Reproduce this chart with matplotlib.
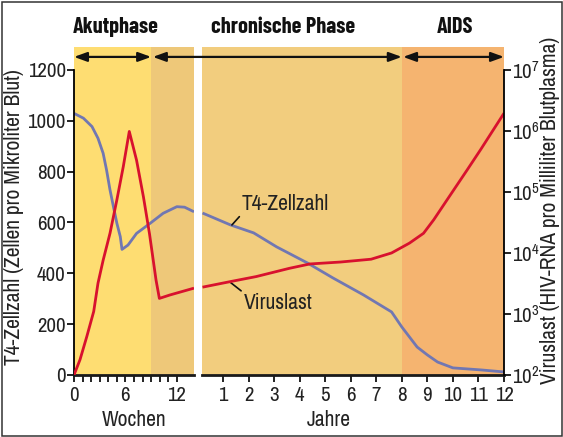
import numpy as np
import matplotlib
matplotlib.use("Agg")
import matplotlib.pyplot as plt
from matplotlib.patches import Rectangle
from matplotlib.ticker import FixedLocator, FuncFormatter, NullLocator

plt.rcParams['font.family'] = ['Archivo Narrow', 'DejaVu Sans']
plt.rcParams['mathtext.fontset'] = 'custom'
plt.rcParams['mathtext.rm'] = 'Archivo Narrow'

# --- Daten ---
# Akutphase, x in Wochen
t4_weeks_x = [0, 1.1, 2.1, 2.8, 3.4, 3.8, 4.2, 4.6, 5.0, 5.4, 5.6, 6.3, 7.3, 8.9, 10.4, 12.0, 12.9, 14]
t4_weeks = [1029, 1010, 977, 931, 872, 806, 728, 662, 597, 544, 494, 511, 557, 597, 636, 662, 660, 642]

vl_weeks_x = [0, 0.7, 1.5, 2.3, 2.8, 3.4, 4.2, 5.0, 5.75, 6.45, 7.3, 8.1, 8.8, 9.57, 9.96,
              11.2, 14]
vl_weeks = [1e2, 1.78e2, 4.3e2, 1.1e3, 3.2e3, 7.6e3, 2.1e4, 7.4e4, 2.6e5, 9.8e5, 3.3e5, 8.3e4,
            2.1e4, 3.6e3, 1.8e3, 2.05e3, 2.65e3]

# chronische Phase / AIDS, x in Jahren
t4_years_x = [0.2, 1.3, 2.2, 3.1, 4.3, 5.3, 6.5, 7.6, 8.0, 8.6, 9.0, 9.4, 10.0, 11.1, 12.0]
t4_years = [637, 590, 559, 504, 441, 382, 315, 248, 189, 110, 79, 51, 28, 20, 12]

vl_years_x = [0.2, 1.3, 2.3, 3.6, 4.4, 5.6, 6.8, 7.6, 8.3, 8.85, 9.25, 9.77, 10.56, 11.08, 12.0]
vl_years = [2.75e3, 3.4e3, 4.1e3, 5.6e3, 6.6e3, 7.1e3, 7.9e3, 1.0e4, 1.45e4, 2.1e4, 3.5e4,
            7.4e4, 2.3e5, 4.9e5, 1.95e6]

week_ticks = list(range(0, 13))
week_labels = ['0', '', '', '', '', '', '6', '', '', '', '', '', '12']
year_ticks = list(range(1, 13))
t4_ticks = [0, 200, 400, 600, 800, 1000, 1200]
vl_ticks = [1e2, 1e3, 1e4, 1e5, 1e6, 1e7]

phases = ['Akutphase', 'chronische Phase', 'AIDS']

c_acute = '#FEDD72'
c_acute2 = '#EEC879'
c_chron = '#F2CD7E'
c_aids = '#F5B470'
c_red = '#D8112E'
c_blue = '#7177B2'
c_text = '#222222'

W, H = 563, 437
fig = plt.figure(figsize=(W / 100, H / 100), dpi=100)


def px_rect(x0, y0, x1, y1):
    return [x0 / W, 1 - y1 / H, (x1 - x0) / W, (y1 - y0) / H]


T_TOP = 1290
V_TOP = 10 ** (2 + T_TOP / 240)

ax_w = fig.add_axes(px_rect(74, 47, 194, 375))
ax_y = fig.add_axes(px_rect(202, 47, 504, 375))
ax_wv = ax_w.twinx()
ax_yv = ax_y.twinx()

# Hintergrund
ax_w.axvspan(0, 9, color=c_acute, lw=0, zorder=0)
ax_w.axvspan(9, 14, color=c_acute2, lw=0, zorder=0)
ax_y.axvspan(0.18, 8, color=c_chron, lw=0, zorder=0)
ax_y.axvspan(8, 12, color=c_aids, lw=0, zorder=0)

# Kurven
line_kw = dict(lw=2.0, solid_joinstyle='round', solid_capstyle='butt')
ax_w.plot(t4_weeks_x, t4_weeks, color=c_blue, **line_kw)
ax_y.plot(t4_years_x, t4_years, color=c_blue, **line_kw)
ax_wv.plot(vl_weeks_x, vl_weeks, color=c_red, **line_kw)
ax_yv.plot(vl_years_x, vl_years, color=c_red, **line_kw)

for a in (ax_w, ax_y):
    a.set_ylim(0, T_TOP)
for a in (ax_wv, ax_yv):
    a.set_yscale('log')
    a.set_ylim(1e2, V_TOP)
ax_w.set_xlim(0, 14)
ax_y.set_xlim(0.18, 12)
ax_wv.set_xlim(0, 14)
ax_yv.set_xlim(0.18, 12)

for a in (ax_w, ax_y, ax_wv, ax_yv):
    for s in a.spines.values():
        s.set_visible(False)

tick_kw = dict(direction='out', length=5, width=1.3, color='#111111', labelsize=15,
               labelcolor=c_text)

# Wochen-Achse
ax_w.spines['left'].set_visible(True)
ax_w.spines['left'].set_bounds(0, 1200)
ax_w.spines['left'].set_linewidth(1.3)
ax_w.spines['bottom'].set_visible(True)
ax_w.spines['bottom'].set_linewidth(2)
ax_w.spines['bottom'].set_color('#1a1a1a')
ax_w.set_yticks(t4_ticks)
ax_w.set_xticks(week_ticks)
ax_w.set_xticklabels(week_labels)
ax_w.tick_params(axis='y', pad=1, **tick_kw)
ax_w.tick_params(axis='x', pad=3, **tick_kw)
ax_w.set_xlabel('Wochen', fontsize=15.5, color=c_text, va='center')
ax_w.xaxis.set_label_coords(0.5, -0.137)
ax_wv.set_yticks([])
ax_wv.yaxis.set_minor_locator(NullLocator())

# Jahres-Achse
ax_y.spines['bottom'].set_visible(True)
ax_y.spines['bottom'].set_linewidth(2)
ax_y.spines['bottom'].set_color('#1a1a1a')
ax_y.set_yticks([])
ax_y.set_xticks(year_ticks)
ax_y.tick_params(axis='x', pad=3, **tick_kw)
ax_y.set_xlabel('Jahre', fontsize=15.5, color=c_text, va='center')
ax_y.xaxis.set_label_coords(0.42, -0.137)

ax_yv.spines['right'].set_visible(True)
ax_yv.spines['right'].set_bounds(1e2, 1e7)
ax_yv.spines['right'].set_linewidth(1.3)
ax_yv.yaxis.set_major_locator(FixedLocator(vl_ticks))
ax_yv.yaxis.set_minor_locator(NullLocator())
ax_yv.yaxis.set_major_formatter(
    FuncFormatter(lambda v, p: r'$\mathregular{10^{%d}}$' % round(np.log10(v))))
ax_yv.tick_params(axis='y', pad=1, **tick_kw)

# Achsentitel
fig.text(14 / W, 1 - 217 / H, 'T4-Zellzahl (Zellen pro Mikroliter Blut)', rotation=90,
         ha='center', va='center', fontsize=15.5, color=c_text)
fig.text(550 / W, 1 - 210 / H, 'Viruslast (HIV-RNA pro Milliliter Blutplasma)', rotation=90,
         ha='center', va='center', fontsize=15.5, color=c_text)

# Phasen
for name, xp in zip(phases, [115.5, 283.5, 455]):
    fig.text(xp / W, 1 - 27 / H, name, ha='center', va='center', fontsize=16,
             fontweight='bold', color='#111111',
             family=['Barlow Condensed', 'Barlow Semi Condensed', 'DejaVu Sans'])

arrow_kw = dict(arrowstyle='<|-|>,head_length=0.55,head_width=0.2', color='#111111',
                lw=1.6, shrinkA=0, shrinkB=0, mutation_scale=14)
y_arr = 1251
ax_w.annotate('', xy=(9.0, y_arr), xytext=(0, y_arr), arrowprops=arrow_kw,
              annotation_clip=False)
ax_y.annotate('', xy=(8.0, y_arr), xycoords=ax_y.transData, xytext=(9.2, y_arr),
              textcoords=ax_w.transData, arrowprops=arrow_kw, annotation_clip=False)
ax_y.annotate('', xy=(12.0, y_arr), xytext=(8.05, y_arr), arrowprops=arrow_kw,
              annotation_clip=False)

# Kurvenbeschriftung
lead = dict(arrowstyle='-', color='#111111', lw=1.2, shrinkA=0, shrinkB=0)
ax_y.annotate('T4-Zellzahl', xy=(1.35, 590), xytext=(1.74, 673), ha='left', va='center',
              fontsize=15.5, color=c_text, arrowprops=dict(lead, relpos=(0, 0)), zorder=5)
ax_y.annotate('Viruslast', xy=(1.27, 366), xytext=(1.82, 283), ha='left', va='center',
              fontsize=15.5, color=c_text, arrowprops=dict(lead, relpos=(0, 1)), zorder=5)

# Rahmen
fig.patches.append(Rectangle((1.5 / W, 1.5 / H), 1 - 3 / W, 1 - 3 / H, transform=fig.transFigure,
                             fill=False, edgecolor='#333333', lw=1.1))

fig.savefig('out.png', dpi=100)
